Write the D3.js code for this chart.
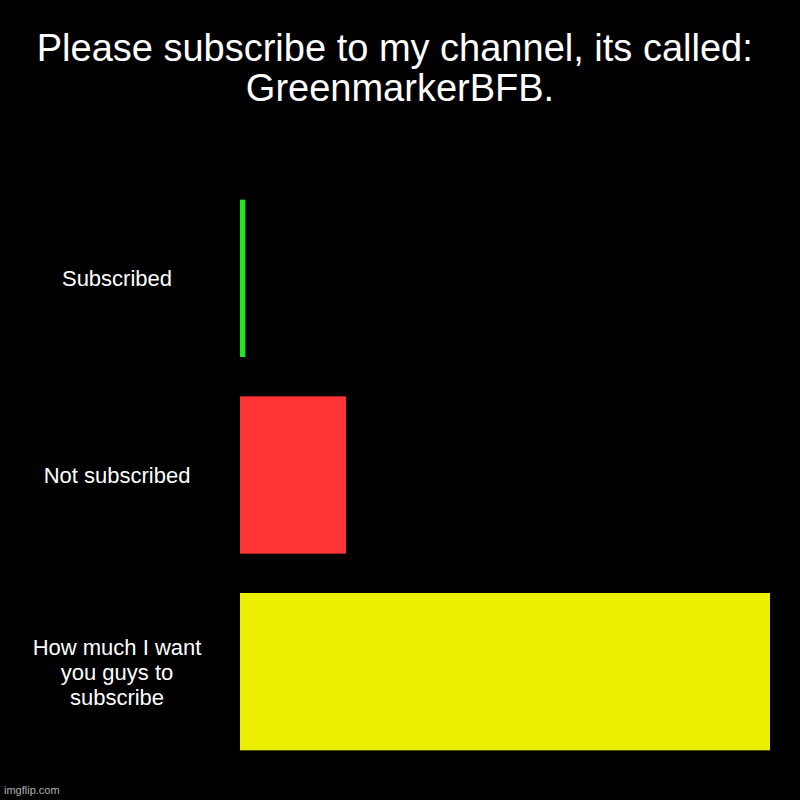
<!DOCTYPE html>
<meta charset="utf-8">
<html>
  <head>
    <style>
      body { margin: 0; background: #000; }
      svg { display: block; font-family: "Liberation Sans", Arial, Helvetica, sans-serif; }
    </style>
  </head>
  <body>
    <div id="chart"></div>
    <script src="https://d3js.org/d3.v7.min.js"></script>
    <script>
// chart data
var categories = ["Subscribed", "Not subscribed", "How much I want you guys to subscribe"]
var values = [1, 20, 100]
var colors = ["#1fe61f", "#ff3535", "#eeee00"]
var titleLines = ["Please subscribe to my channel, its called: ", "GreenmarkerBFB."]

var width = 800, height = 800

var svg = d3.select("#chart")
  .append("svg")
    .attr("width", width)
    .attr("height", height)

svg.append("rect")
    .attr("width", width)
    .attr("height", height)
    .style("fill", "#000")

// scales
var x = d3.scaleLinear()
  .domain([0, 100])
  .range([240, 770])

var y = d3.scaleBand()
  .domain(categories)
  .range([180, 770])
  .paddingInner(0.2)
  .paddingOuter(0.1)

// title (first line keeps its trailing space, like the original)
svg.selectAll(".title")
  .data(titleLines)
  .enter()
  .append("text")
    .attr("class", "title")
    .attr("x", width / 2)
    .attr("y", function(d, i) { return 61 + i * 40 })
    .attr("text-anchor", "middle")
    .style("white-space", "pre")
    .style("font-size", "38px")
    .style("fill", "#fff")
    .text(function(d) { return d })

// bars
svg.selectAll(".bar")
  .data(values)
  .enter()
  .append("rect")
    .attr("class", "bar")
    .attr("x", x(0))
    .attr("y", function(d, i) { return y(categories[i]) })
    .attr("width", function(d) { return x(d) - x(0) })
    .attr("height", y.bandwidth())
    .style("fill", function(d, i) { return colors[i] })

// category labels, wrapped
var labelX = 117, maxW = 190, lineH = 25
categories.forEach(function(cat) {
  var t = svg.append("text")
    .attr("text-anchor", "middle")
    .style("font-size", "22px")
    .style("fill", "#fff")
  var words = cat.split(" "), lines = [], line = []
  var probe = t.append("tspan")
  words.forEach(function(w) {
    line.push(w)
    probe.text(line.join(" "))
    if (probe.node().getComputedTextLength() > maxW && line.length > 1) {
      line.pop()
      lines.push(line.join(" "))
      line = [w]
    }
  })
  lines.push(line.join(" "))
  probe.remove()
  var cy = y(cat) + y.bandwidth() / 2
  var first = cy + 8 - (lines.length - 1) * lineH / 2
  lines.forEach(function(l, i) {
    t.append("tspan")
      .attr("x", labelX)
      .attr("y", first + i * lineH)
      .text(l)
  })
})

// watermark
svg.append("text")
    .attr("x", 4)
    .attr("y", 794)
    .style("font-size", "11px")
    .style("fill", "#b0b0b0")
    .text("imgflip.com")
    </script>
  </body>
</html>
